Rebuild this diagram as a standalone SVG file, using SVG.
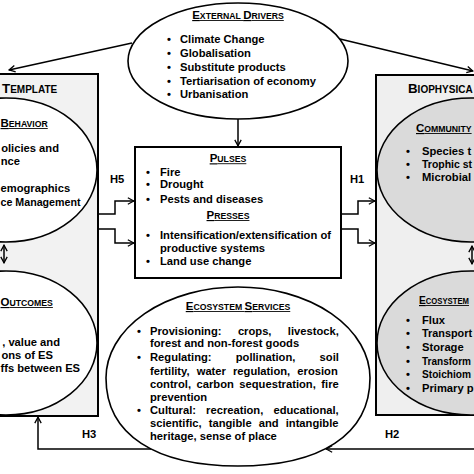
<svg xmlns="http://www.w3.org/2000/svg" width="474" height="474" viewBox="0 0 474 474">
<defs>
<style>
.t{font-family:"Liberation Sans",Arial,Helvetica,sans-serif;font-weight:bold;font-size:11.2px;fill:#000}
.h{font-size:11.5px;text-decoration:underline}
.sc{font-size:8.7px}
.pt{font-size:13.3px}
.psc{font-size:10px}
.box{stroke:#000;stroke-width:2}
.ell{stroke:#000;stroke-width:1.6}
.con{fill:none;stroke:#000;stroke-width:1.5}
</style>
<marker id="ah" viewBox="0 0 10 10" refX="9.2" refY="5" markerWidth="8" markerHeight="8" orient="auto-start-reverse" markerUnits="userSpaceOnUse">
<path d="M1.5,1 L9,5 L1.5,9" fill="none" stroke="#000" stroke-width="1.6"/>
</marker>
</defs>
<rect width="474" height="474" fill="#fff"/>

<g id="template-panel">
<rect class="box" x="-3" y="74" width="101" height="342" fill="#f2f2f2"/>
<text class="t pt" x="2" y="93">T<tspan class="psc">EMPLATE</tspan></text>
</g>
<g id="behavior">
<ellipse class="ell" cx="6" cy="170" rx="91" ry="72" fill="#fff"/>
<text class="t h" x="0.5" y="127">B<tspan class="sc">EHAVIOR</tspan></text>
<text class="t" x="59" y="152" text-anchor="end">olicies and</text>
<text class="t" x="20" y="165" text-anchor="end">nce</text>
<text class="t" x="0.5" y="192">emographics</text>
<text class="t" x="0.5" y="206" textLength="80" lengthAdjust="spacingAndGlyphs">ce Management</text>
</g>
<g id="outcomes">
<ellipse class="ell" cx="6" cy="343" rx="91" ry="72" fill="#fff"/>
<text class="t h" x="0.5" y="306">O<tspan class="sc">UTCOMES</tspan></text>
<text class="t" x="60" y="346" text-anchor="end">, value and</text>
<text class="t" x="53" y="359" text-anchor="end">ons of ES</text>
<text class="t" x="0.5" y="372">ffs between ES</text>
</g>

<g id="biophysical-panel">
<rect class="box" x="376" y="75" width="101" height="340" fill="#efefef"/>
<text class="t pt" x="408" y="93">B<tspan class="psc">IOPHYSICA</tspan></text>
</g>
<g id="community">
<ellipse class="ell" cx="471" cy="170" rx="94" ry="72" fill="#dadada"/>
<text class="t h" x="416" y="132">C<tspan class="sc">OMMUNITY</tspan></text>
<text class="t" x="406" y="155">•</text><text class="t" x="422" y="155">Species t</text>
<text class="t" x="406" y="168">•</text><text class="t" x="422" y="168" textLength="50" lengthAdjust="spacingAndGlyphs">Trophic st</text>
<text class="t" x="406" y="181">•</text><text class="t" x="422" y="181">Microbial</text>
</g>
<g id="ecosystem">
<ellipse class="ell" cx="471" cy="343" rx="94" ry="72" fill="#dadada"/>
<text class="t h" x="419" y="304" textLength="50" lengthAdjust="spacingAndGlyphs">E<tspan class="sc">COSYSTEM</tspan></text>
<text class="t" x="406" y="324">•</text><text class="t" x="422" y="324">Flux</text>
<text class="t" x="406" y="337">•</text><text class="t" x="422" y="337" textLength="50" lengthAdjust="spacingAndGlyphs">Transport</text>
<text class="t" x="406" y="351">•</text><text class="t" x="422" y="351">Storage</text>
<text class="t" x="406" y="365">•</text><text class="t" x="422" y="365" textLength="49" lengthAdjust="spacingAndGlyphs">Transform</text>
<text class="t" x="406" y="378">•</text><text class="t" x="422" y="378" textLength="49" lengthAdjust="spacingAndGlyphs">Stoichiom</text>
<text class="t" x="406" y="392">•</text><text class="t" x="422" y="392">Primary p</text>
</g>

<g id="external-drivers">
<ellipse class="ell" cx="238" cy="61" rx="110" ry="58" fill="#fff"/>
<text class="t h" x="238" y="19" text-anchor="middle">E<tspan class="sc">XTERNAL </tspan>D<tspan class="sc">RIVERS</tspan></text>
<text class="t" x="167" y="43.3">•</text><text class="t" x="180" y="43.3">Climate Change</text>
<text class="t" x="167" y="57.3">•</text><text class="t" x="180" y="57.3">Globalisation</text>
<text class="t" x="167" y="70.7">•</text><text class="t" x="180" y="70.7">Substitute products</text>
<text class="t" x="167" y="84.7">•</text><text class="t" x="180" y="84.7">Tertiarisation of economy</text>
<text class="t" x="167" y="98">•</text><text class="t" x="180" y="98">Urbanisation</text>
</g>

<g id="pulses-presses">
<rect class="box" x="135" y="147" width="206" height="131" fill="#fff"/>
<text class="t h" x="228" y="162.3" text-anchor="middle">P<tspan class="sc">ULSES</tspan></text>
<text class="t" x="146" y="175.7">•</text><text class="t" x="160" y="175.7">Fire</text>
<text class="t" x="146" y="188.3">•</text><text class="t" x="160" y="188.3">Drought</text>
<text class="t" x="146" y="202.7">•</text><text class="t" x="160" y="202.7">Pests and diseases</text>
<text class="t h" x="228" y="219" text-anchor="middle">P<tspan class="sc">RESSES</tspan></text>
<text class="t" x="146" y="239">•</text><text class="t" x="160" y="239">Intensification/extensification of</text>
<text class="t" x="160" y="251.7">productive systems</text>
<text class="t" x="146" y="265">•</text><text class="t" x="160" y="265">Land use change</text>
</g>

<g id="ecosystem-services">
<path class="ell" fill="#fff" d="M106,378 A132,91 0 0 1 370,378 C370,435 320,466 238,466 C156,466 106,435 106,378 Z"/>
<text class="t h" x="238" y="310" text-anchor="middle">E<tspan class="sc">COSYSTEM </tspan>S<tspan class="sc">ERVICES</tspan></text>
<text class="t" x="137" y="334.7">•</text><text class="t" x="150" y="334.7" style="word-spacing:13.3px">Provisioning: crops, livestock,</text>
<text class="t" x="150" y="347.3">forest and non-forest goods</text>
<text class="t" x="137" y="361.3">•</text><text class="t" x="150" y="361.3" style="word-spacing:21.1px">Regulating: pollination, soil</text>
<text class="t" x="150" y="374.7" style="word-spacing:4px">fertility, water regulation, erosion</text>
<text class="t" x="150" y="388" style="word-spacing:2.4px">control, carbon sequestration, fire</text>
<text class="t" x="150" y="400.7">prevention</text>
<text class="t" x="137" y="414">•</text><text class="t" x="150" y="414" style="word-spacing:7px">Cultural: recreation, educational,</text>
<text class="t" x="150" y="426.7" style="word-spacing:4px">scientific, tangible and intangible</text>
<text class="t" x="150" y="439.7">heritage, sense of place</text>
</g>

<g id="connectors">
<line class="con" x1="132" y1="43" x2="9" y2="70" marker-end="url(#ah)"/>
<line class="con" x1="340" y1="39" x2="473" y2="71" marker-end="url(#ah)"/>
<line class="con" x1="238" y1="119" x2="238" y2="146" marker-end="url(#ah)"/>
<polyline class="con" points="98,214 115,214 115,201 134,201" marker-end="url(#ah)"/>
<polyline class="con" points="98,229 115,229 115,243 134,243" marker-end="url(#ah)"/>
<polyline class="con" points="341,214 358,214 358,201 375,201" marker-end="url(#ah)"/>
<polyline class="con" points="341,229 358,229 358,243 375,243" marker-end="url(#ah)"/>
<line class="con" x1="4" y1="245" x2="4" y2="263" marker-start="url(#ah)" marker-end="url(#ah)"/>
<line class="con" x1="472" y1="246" x2="472" y2="264" marker-start="url(#ah)" marker-end="url(#ah)"/>
<polyline class="con" points="151,449 38,449 38,417" marker-end="url(#ah)"/>
<line class="con" x1="476" y1="449" x2="326" y2="449" marker-end="url(#ah)"/>
<text class="t" x="110" y="183">H5</text>
<text class="t" x="350" y="183">H1</text>
<text class="t" x="82" y="438">H3</text>
<text class="t" x="385" y="438">H2</text>
</g>
</svg>
